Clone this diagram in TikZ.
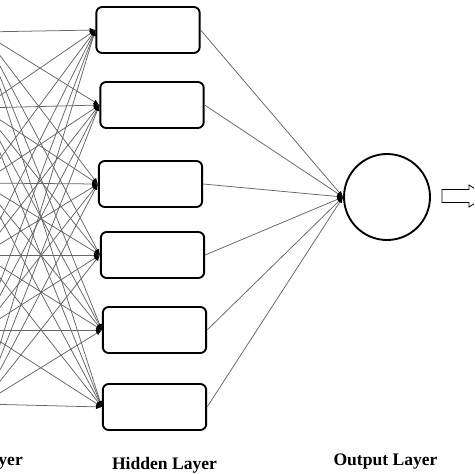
\documentclass[tikz,border=0pt]{standalone}
\usepackage{fontspec}
\setmainfont{Liberation Serif}
\usetikzlibrary{arrows.meta}
\begin{document}
\begin{tikzpicture}[x=0.03cm,y=-0.03cm,
  hbox/.style={draw,line width=1.6pt,rounded corners=5pt,minimum width=3.1cm,minimum height=1.38cm,inner sep=0pt},
  conn/.style={draw=black!60,line width=0.65pt,-{Latex[length=5pt,width=4pt,fill=black,color=black]}},
  hollow/.style={draw,line width=0.7pt,fill=white},
  lbl/.style={font=\bfseries\fontsize{15}{18}\selectfont}]
\useasboundingbox (0,0) rectangle (474,474);
\clip (0,0) rectangle (474,474);
% input origins (off-picture)
\foreach \i/\y in {1/32,2/108,3/183,4/255,5/330,6/404}
  \coordinate (in\i) at (-18,\y);
% hidden boxes
\node[hbox] (h1) at (148,30) {};
\node[hbox] (h2) at (152,105) {};
\node[hbox] (h3) at (150.5,184) {};
\node[hbox] (h4) at (152.5,255) {};
\node[hbox] (h5) at (154.5,330) {};
\node[hbox] (h6) at (154.5,407) {};
% output
\node[draw,circle,line width=1.6pt,minimum size=2.58cm,inner sep=0pt] (o) at (387,197) {};
% connections
\foreach \i in {1,...,6}
  \foreach \j in {1,...,6}
    \draw[conn] (in\i) -- (h\j.west);
\foreach \j in {1,...,6}
  \draw[conn] (h\j.east) -- (o.west);
% hollow block arrow
\coordinate (a0) at (442,189.5);
\coordinate (a1) at (469,189.5);
\coordinate (a2) at (469,185);
\coordinate (a3) at (486,196);
\coordinate (a4) at (469,207);
\coordinate (a5) at (469,202.5);
\coordinate (a6) at (442,202.5);
\draw[hollow] (a0) -- (a1) -- (a2) -- (a3) -- (a4) -- (a5) -- (a6) -- cycle;
% labels
\node[lbl,anchor=base east] (li) at (27,465) {Input Layer};
\node[lbl,anchor=base] (lh) at (164.5,469) {Hidden Layer};
\node[lbl,anchor=base] (lo) at (385.5,465) {Output Layer};
\end{tikzpicture}
\end{document}
